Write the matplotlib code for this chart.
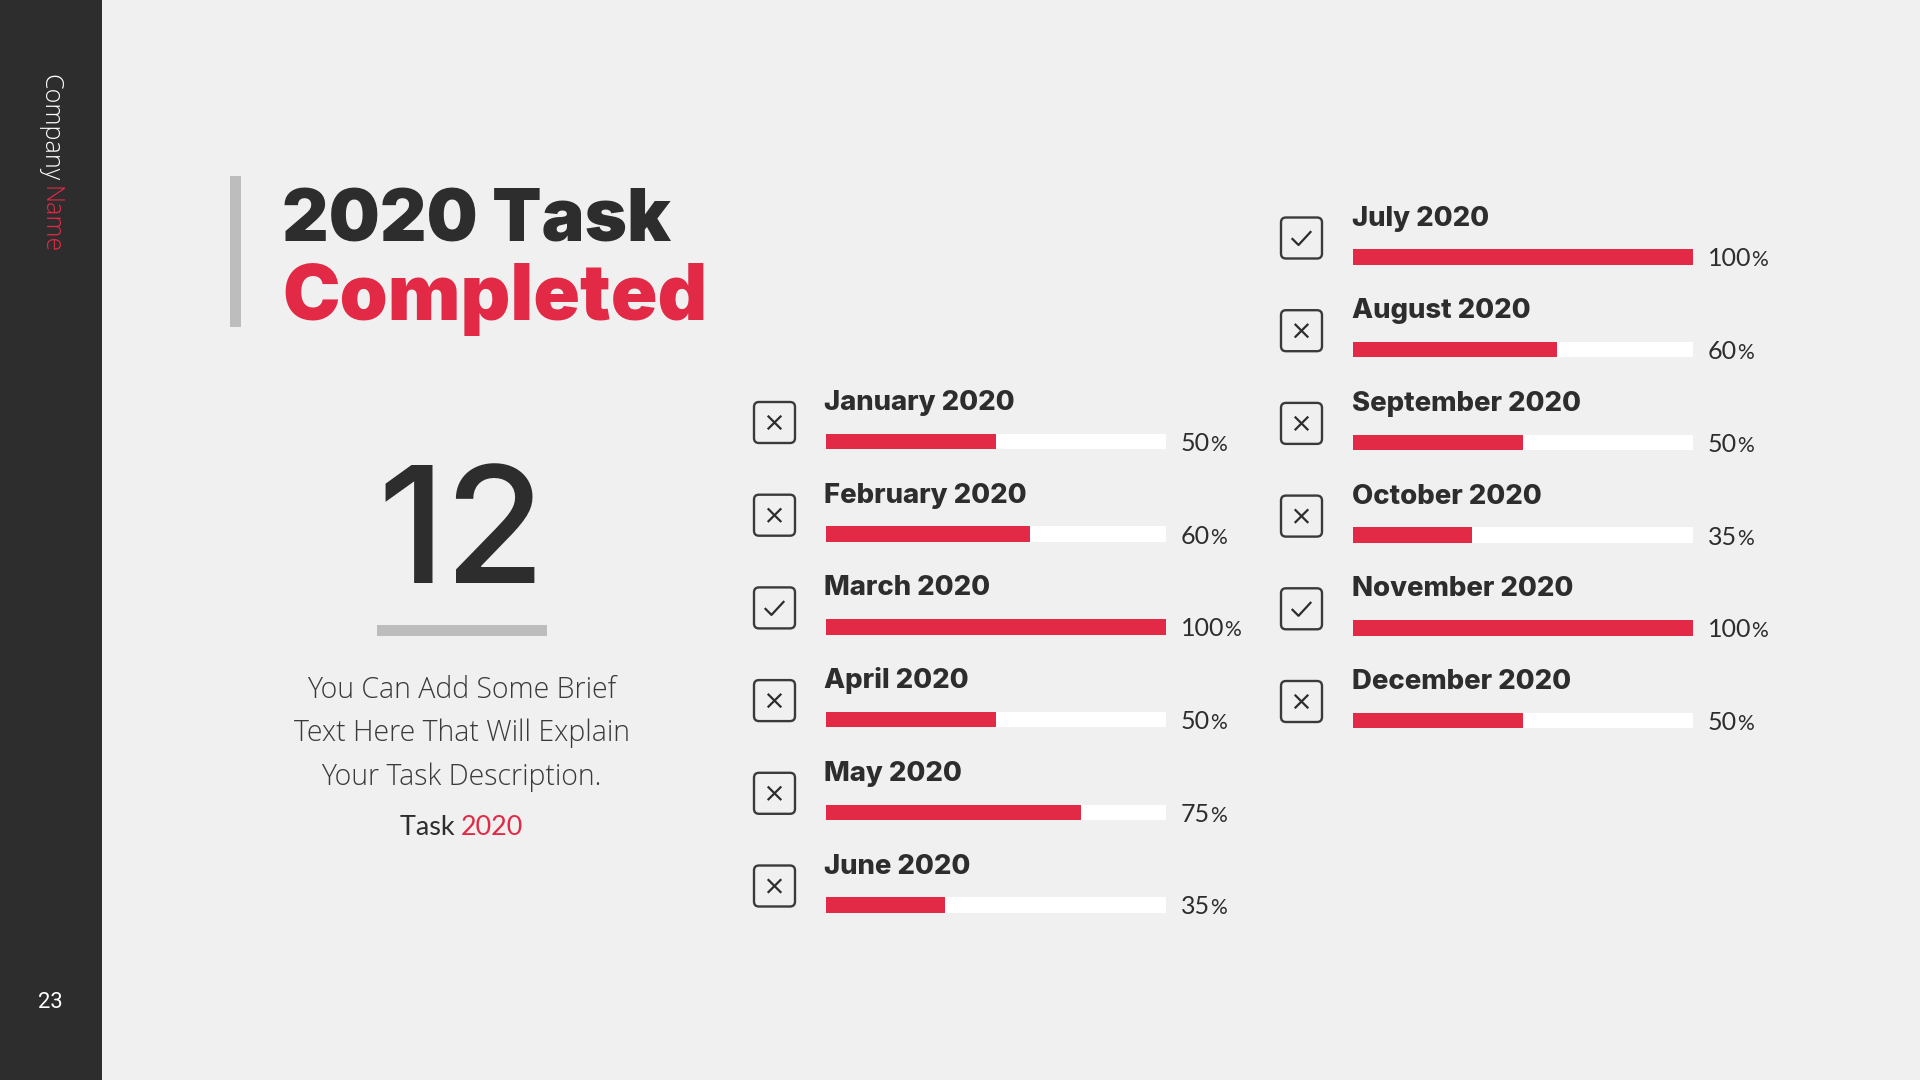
import matplotlib
matplotlib.use('Agg')
import matplotlib.pyplot as plt
from matplotlib.patches import FancyBboxPatch, Rectangle

W, H = 1920, 1080
BG = '#f0f0f0'
DARK = '#2d2d2d'
RED = '#e22a47'
GREY = '#bdbdbd'

months_left = ['January 2020', 'February 2020', 'March 2020', 'April 2020', 'May 2020', 'June 2020']
values_left = [50, 60, 100, 50, 75, 35]
months_right = ['July 2020', 'August 2020', 'September 2020', 'October 2020', 'November 2020', 'December 2020']
values_right = [100, 60, 50, 35, 100, 50]
description = ['You Can Add Some Brief', 'Text Here That Will Explain', 'Your Task Description.']

ROW = 92.7


def px(size):
    return size * 0.72


def runs(ax, x, y, parts, center=False):
    """draws coloured pieces of text one after the other, parts = (text, color, size, font, weight)"""
    renderer = ax.figure.canvas.get_renderer()
    pieces = []
    total = 0
    for text, color, size, font, weight in parts:
        t = ax.text(x, y, text, color=color, fontsize=px(size), family=font, weight=weight,
                    ha='left', va='baseline')
        w = t.get_window_extent(renderer).width
        pieces.append((t, w))
        total += w
    cur = x - total / 2 if center else x
    for t, w in pieces:
        t.set_x(cur)
        cur += w


def icon(ax, cx, cy, done):
    s = 41
    ax.add_patch(FancyBboxPatch((cx - s / 2 + 4, cy - s / 2 + 4), s - 8, s - 8,
                                boxstyle='round,pad=4,rounding_size=5', fc='none', ec='#3a3a3a', lw=1.7))
    if done:
        ax.plot([cx - 9, cx - 3, cx + 9], [cy + 1, cy + 7, cy - 6], color=DARK, lw=1.6)
    else:
        ax.plot([cx - 6, cx + 6], [cy - 6, cy + 6], color=DARK, lw=1.6)
        ax.plot([cx - 6, cx + 6], [cy + 6, cy - 6], color=DARK, lw=1.6)


def column(fig, over, months, values, bar_x, first_y):
    # bars live on their own axes, 0-100 across the track width
    bar_w = 340
    top = first_y - ROW / 2
    ax = fig.add_axes([bar_x / W, 1 - (top + ROW * len(values)) / H, bar_w / W, ROW * len(values) / H])
    rows = list(range(len(values)))
    ax.barh(rows, [100] * len(values), height=15.5 / ROW, color='white')
    ax.barh(rows, values, height=15.5 / ROW, color=RED)
    ax.set_xlim(0, 100)
    ax.set_ylim(len(values) - 0.5, -0.5)
    ax.axis('off')
    for i, (month, val) in enumerate(zip(months, values)):
        y = first_y + i * ROW
        over.text(bar_x - 1, y - 31.5, month, color=DARK, fontsize=px(27.5), family='Inter', weight='heavy',
                  ha='left', va='baseline')
        runs(over, bar_x + 355.5, y + 9.5, [(str(val), DARK, 25, 'Lato', 'normal'), ('%', DARK, 21, 'Lato', 'normal')])
        icon(over, bar_x - 51, y - 19, val == 100)


fig = plt.figure(figsize=(W / 100, H / 100), dpi=100, facecolor=BG)
fig.canvas.draw()
over = fig.add_axes([0, 0, 1, 1], zorder=5)
over.set_xlim(0, W)
over.set_ylim(H, 0)
over.axis('off')

# sidebar
over.add_patch(Rectangle((0, 0), 102, H, fc=DARK, ec='none'))
over.text(50, 74, 'Company', color='white', fontsize=px(25), family='Open Sans', weight='light',
          rotation=-90, ha='center', va='top')
over.text(50, 186, 'Name', color=RED, fontsize=px(25), family='Open Sans', weight='light',
          rotation=-90, ha='center', va='top')
over.text(50, 1003, '23', color='white', fontsize=px(22), family='Roboto', ha='center', va='center')

# title block
over.add_patch(Rectangle((230, 176), 11, 151, fc=GREY, ec='none'))
over.text(282, 241, '2020 Task', color=DARK, fontsize=px(72), family='Inter', weight='black', va='baseline')
over.text(282, 320, 'Completed', color=RED, fontsize=px(77), family='Inter', weight='black', va='baseline')

# left summary
over.text(461.5, 583, '12', color=DARK, fontsize=px(163), family='Inter', weight='medium', ha='center', va='baseline')
over.add_patch(Rectangle((377, 625), 170, 11, fc=GREY, ec='none'))
for i, line in enumerate(description):
    over.text(461.5, 698 + i * 43.5, line, color='#3a3a3a', fontsize=px(28.5), family='Open Sans', weight='light',
              ha='center', va='baseline')
runs(over, 461.5, 835, [('Task ', DARK, 27, 'Lato', 'normal'), ('2020', RED, 27, 'Lato', 'normal')], center=True)

column(fig, over, months_left, values_left, 825.5, 441.5)
column(fig, over, months_right, values_right, 1352.5, 257)

fig.savefig('out.png', dpi=100, facecolor=BG)
